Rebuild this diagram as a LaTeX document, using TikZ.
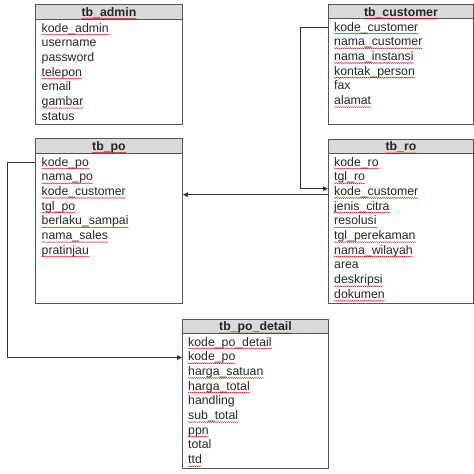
\documentclass[tikz,border=0pt]{standalone}
\usepackage{fontspec}
\setmainfont{Liberation Sans}
\usetikzlibrary{arrows.meta,decorations.pathmorphing}
\definecolor{garis}{HTML}{555555}
\definecolor{abu}{HTML}{DADADA}
\tikzset{
	tabel/.style={draw=garis, line width=0.9pt, anchor=north west, inner sep=0pt},
	kepala/.style={tabel, fill=abu, minimum height=15pt},
	judul/.style={font=\bfseries\fontsize{12.3}{14}\selectfont, inner sep=0pt, anchor=base, text=black!85},
	kolom/.style={font=\fontsize{12.3}{14}\selectfont, inner sep=0pt, anchor=base west, text=black!85},
	typo/.style={red!85!black, line width=0.35pt, decorate, decoration={snake, amplitude=0.45pt, segment length=2pt}},
	relasi/.style={draw=black!80, line width=0.8pt, -{Triangle[length=5pt,width=4.5pt]}},
}
\begin{document}
\begin{tikzpicture}[x=1pt, y=-1pt]
	\useasboundingbox (0,0) rectangle (474,474);

	% tabel
	\node[tabel, minimum width=147pt, minimum height=120pt] (admin) at (35,4) {};
	\node[kepala, minimum width=147pt] at (admin.north west) {};
	\node[tabel, minimum width=145pt, minimum height=120pt] (cust) at (328,4) {};
	\node[kepala, minimum width=145pt, minimum height=14pt] at (cust.north west) {};
	\node[tabel, minimum width=147pt, minimum height=165pt] (po) at (35,138) {};
	\node[kepala, minimum width=147pt] at (po.north west) {};
	\node[tabel, minimum width=145pt, minimum height=164pt] (ro) at (328,139) {};
	\node[kepala, minimum width=145pt, minimum height=14pt] at (ro.north west) {};
	\node[tabel, minimum width=146pt, minimum height=149pt] (det) at (182,319) {};
	\node[kepala, minimum width=146pt, minimum height=14pt] at (det.north west) {};

	\node[judul] (admin-j) at ([yshift=-12pt]admin.north) {tb\_admin};
	\node[judul] (cust-j) at ([yshift=-12pt]cust.north) {tb\_customer};
	\node[judul] (po-j) at ([yshift=-12pt]po.north) {tb\_po};
	\node[judul] (ro-j) at ([yshift=-11.5pt]ro.north) {tb\_ro};
	\node[judul] (det-j) at ([yshift=-11.5pt]det.north) {tb\_po\_detail};
	\foreach \j in {admin,cust,po,ro,det}
		\draw[typo] ([yshift=-2.6pt]\j-j.base west) -- ([yshift=-2.6pt]\j-j.base east);

	% kolom
	\foreach \nama/\salah [count=\i] in {kode\_admin/1, username/0, password/0, telepon/1, email/0, gambar/1, status/0}
	{
		\node[kolom] (admin-\i) at (41.5, {32+14.7*(\i-1)}) {\nama};
		\ifnum\salah=1 \draw[typo] ([yshift=-2.6pt]admin-\i.base west) -- ([yshift=-2.6pt]admin-\i.base east); \fi
	}
	\foreach \nama/\salah [count=\i] in {kode\_customer/1, nama\_customer/1, nama\_instansi/1, kontak\_person/1, fax/0, alamat/1}
	{
		\node[kolom] (cust-\i) at (334, {31+14.7*(\i-1)}) {\nama};
		\ifnum\salah=1 \draw[typo] ([yshift=-2.6pt]cust-\i.base west) -- ([yshift=-2.6pt]cust-\i.base east); \fi
	}
	\foreach \nama/\salah [count=\i] in {kode\_po/1, nama\_po/1, kode\_customer/1, tgl\_po/1, berlaku\_sampai/1, nama\_sales/1, pratinjau/1}
	{
		\node[kolom] (po-\i) at (41.5, {166+14.7*(\i-1)}) {\nama};
		\ifnum\salah=1 \draw[typo] ([yshift=-2.6pt]po-\i.base west) -- ([yshift=-2.6pt]po-\i.base east); \fi
	}
	\foreach \nama/\salah [count=\i] in {kode\_ro/1, tgl\_ro/1, kode\_customer/1, jenis\_citra/1, resolusi/1, tgl\_perekaman/1, nama\_wilayah/1, area/0, deskripsi/1, dokumen/1}
	{
		\node[kolom] (ro-\i) at (334, {166+14.7*(\i-1)}) {\nama};
		\ifnum\salah=1 \draw[typo] ([yshift=-2.6pt]ro-\i.base west) -- ([yshift=-2.6pt]ro-\i.base east); \fi
	}
	\foreach \nama/\salah [count=\i] in {kode\_po\_detail/1, kode\_po/1, harga\_satuan/1, harga\_total/1, handling/0, sub\_total/1, ppn/1, total/0, ttd/1}
	{
		\node[kolom] (det-\i) at (188, {346+14.7*(\i-1)}) {\nama};
		\ifnum\salah=1 \draw[typo] ([yshift=-2.6pt]det-\i.base west) -- ([yshift=-2.6pt]det-\i.base east); \fi
	}

	% relasi
	\draw[relasi] (cust-1.center -| cust.west) -- ++(-28,0) |- ([yshift=3.5pt]ro-3.center -| ro.west);
	\draw[relasi] ([yshift=-2.5pt]ro-3.center -| ro.west) -- ([yshift=-2.5pt]ro-3.center -| po.east);
	\draw[relasi] (po-1.center -| po.west) -- ++(-28,0) |- (det-2.center -| det.west);
\end{tikzpicture}
\end{document}
